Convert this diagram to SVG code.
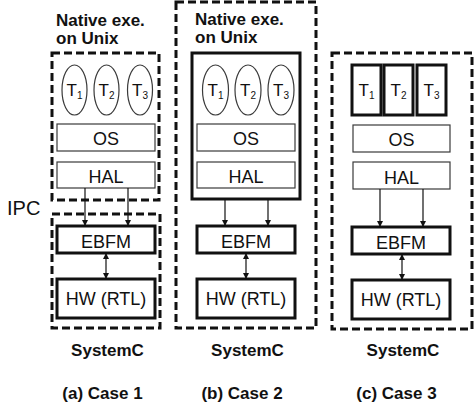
<svg xmlns="http://www.w3.org/2000/svg" width="474" height="408" viewBox="0 0 474 408">
<defs>
<marker id="ah" markerWidth="6" markerHeight="6" refX="6" refY="3" orient="auto" markerUnits="userSpaceOnUse">
<path d="M0,0 L6,3 L0,6 Z" fill="#111"/>
</marker>
<marker id="ahs" markerWidth="6" markerHeight="6" refX="0" refY="3" orient="auto" markerUnits="userSpaceOnUse">
<path d="M6,0 L0,3 L6,6 Z" fill="#111"/>
</marker>
</defs>
<style>
text{font-family:"Liberation Sans",Arial,sans-serif;fill:#111}
.b{font-weight:bold;font-size:17px}
.l{font-size:18px;text-anchor:middle}
.t{font-size:17px;text-anchor:middle}
.dash{fill:none;stroke:#111;stroke-width:3;stroke-dasharray:8 4}
.thin{fill:#fff;stroke:#3a3a3a;stroke-width:1.2}
.thick{fill:#fff;stroke:#111;stroke-width:3}
.con{fill:none;stroke:#111;stroke-width:1.2}
</style>
<rect width="474" height="408" fill="#fff"/>

<g id="case1">
<text class="b" x="56" y="26">Native exe.</text>
<text class="b" x="56" y="44">on Unix</text>
<rect id="c1-unix" class="dash" x="52" y="53" width="107" height="147"/>
<rect id="c1-sysc" class="dash" x="52" y="214" width="108" height="114"/>
<g id="c1-t1"><ellipse class="thin" cx="74.5" cy="90" rx="12.5" ry="25"/><text class="t" x="74.5" y="96">T<tspan font-size="10" dy="3">1</tspan></text></g>
<g id="c1-t2"><ellipse class="thin" cx="106.5" cy="90" rx="12.5" ry="25"/><text class="t" x="106.5" y="96">T<tspan font-size="10" dy="3">2</tspan></text></g>
<g id="c1-t3"><ellipse class="thin" cx="140" cy="90" rx="12.5" ry="25"/><text class="t" x="140" y="96">T<tspan font-size="10" dy="3">3</tspan></text></g>
<g id="c1-os"><rect class="thin" x="57" y="124" width="98" height="27"/><text class="l" x="106" y="145">OS</text></g>
<g id="c1-hal"><rect class="thin" x="57" y="162" width="98" height="26"/><text class="l" x="106" y="183">HAL</text></g>
<g id="c1-ebfm"><rect class="thick" x="57" y="226" width="98" height="27"/><text class="l" x="106" y="248">EBFM</text></g>
<g id="c1-hw"><rect class="thick" x="57" y="279" width="98" height="39"/><text class="l" x="106" y="305">HW (RTL)</text></g>
<text class="b" x="107.5" y="356" text-anchor="middle">SystemC</text>
<text class="b" x="102.5" y="399" text-anchor="middle">(a) Case 1</text>
</g>

<g id="ipc"><text x="7" y="215" font-size="20">IPC</text></g>

<g id="case2">
<rect id="c2-sysc" class="dash" x="176" y="2" width="140" height="326"/>
<text class="b" x="195" y="25">Native exe.</text>
<text class="b" x="195" y="43">on Unix</text>
<rect id="c2-unix" class="thick" x="192" y="53" width="108" height="146"/>
<g id="c2-t1"><ellipse class="thin" cx="215.5" cy="90" rx="13" ry="25"/><text class="t" x="215.5" y="96">T<tspan font-size="10" dy="3">1</tspan></text></g>
<g id="c2-t2"><ellipse class="thin" cx="248" cy="90" rx="13" ry="25"/><text class="t" x="248" y="96">T<tspan font-size="10" dy="3">2</tspan></text></g>
<g id="c2-t3"><ellipse class="thin" cx="281" cy="90" rx="13" ry="25"/><text class="t" x="281" y="96">T<tspan font-size="10" dy="3">3</tspan></text></g>
<g id="c2-os"><rect class="thin" x="197" y="124" width="98" height="27"/><text class="l" x="246" y="145">OS</text></g>
<g id="c2-hal"><rect class="thin" x="197" y="162" width="98" height="26"/><text class="l" x="246" y="183">HAL</text></g>
<g id="c2-ebfm"><rect class="thick" x="197" y="226" width="98" height="27"/><text class="l" x="246" y="248">EBFM</text></g>
<g id="c2-hw"><rect class="thick" x="197" y="279" width="98" height="39"/><text class="l" x="246" y="305">HW (RTL)</text></g>
<text class="b" x="247.5" y="356" text-anchor="middle">SystemC</text>
<text class="b" x="242" y="399" text-anchor="middle">(b) Case 2</text>
</g>

<g id="case3">
<rect id="c3-sysc" class="dash" x="332" y="53" width="140" height="276"/>
<g id="c3-t1"><rect class="thick" x="352" y="65" width="29" height="50"/><text class="t" x="366.5" y="96">T<tspan font-size="10" dy="3">1</tspan></text></g>
<g id="c3-t2"><rect class="thick" x="384" y="65" width="29" height="50"/><text class="t" x="398.5" y="96">T<tspan font-size="10" dy="3">2</tspan></text></g>
<g id="c3-t3"><rect class="thick" x="417" y="65" width="29" height="50"/><text class="t" x="431.5" y="96">T<tspan font-size="10" dy="3">3</tspan></text></g>
<g id="c3-os"><rect class="thin" x="353" y="125" width="97" height="27"/><text class="l" x="401.5" y="146">OS</text></g>
<g id="c3-hal"><rect class="thin" x="353" y="162" width="97" height="27"/><text class="l" x="401.5" y="184">HAL</text></g>
<g id="c3-ebfm"><rect class="thick" x="352" y="227" width="98" height="27"/><text class="l" x="401" y="249">EBFM</text></g>
<g id="c3-hw"><rect class="thick" x="352" y="280" width="98" height="39"/><text class="l" x="401" y="306">HW (RTL)</text></g>
<text class="b" x="403" y="356" text-anchor="middle">SystemC</text>
<text class="b" x="396.5" y="399" text-anchor="middle">(c) Case 3</text>
</g>

<g id="connectors">
<line class="con" x1="85" y1="188" x2="85" y2="226" marker-end="url(#ah)"/>
<line class="con" x1="128" y1="188" x2="128" y2="226" marker-end="url(#ah)"/>
<line class="con" x1="106" y1="253" x2="106" y2="279" marker-start="url(#ahs)" marker-end="url(#ah)"/>
<line class="con" x1="225" y1="199" x2="225" y2="226" marker-end="url(#ah)"/>
<line class="con" x1="268" y1="199" x2="268" y2="226" marker-end="url(#ah)"/>
<line class="con" x1="246" y1="253" x2="246" y2="279" marker-start="url(#ahs)" marker-end="url(#ah)"/>
<line class="con" x1="380" y1="189" x2="380" y2="227" marker-end="url(#ah)"/>
<line class="con" x1="423" y1="189" x2="423" y2="227" marker-end="url(#ah)"/>
<line class="con" x1="402" y1="254" x2="402" y2="280" marker-start="url(#ahs)" marker-end="url(#ah)"/>
</g>
</svg>
